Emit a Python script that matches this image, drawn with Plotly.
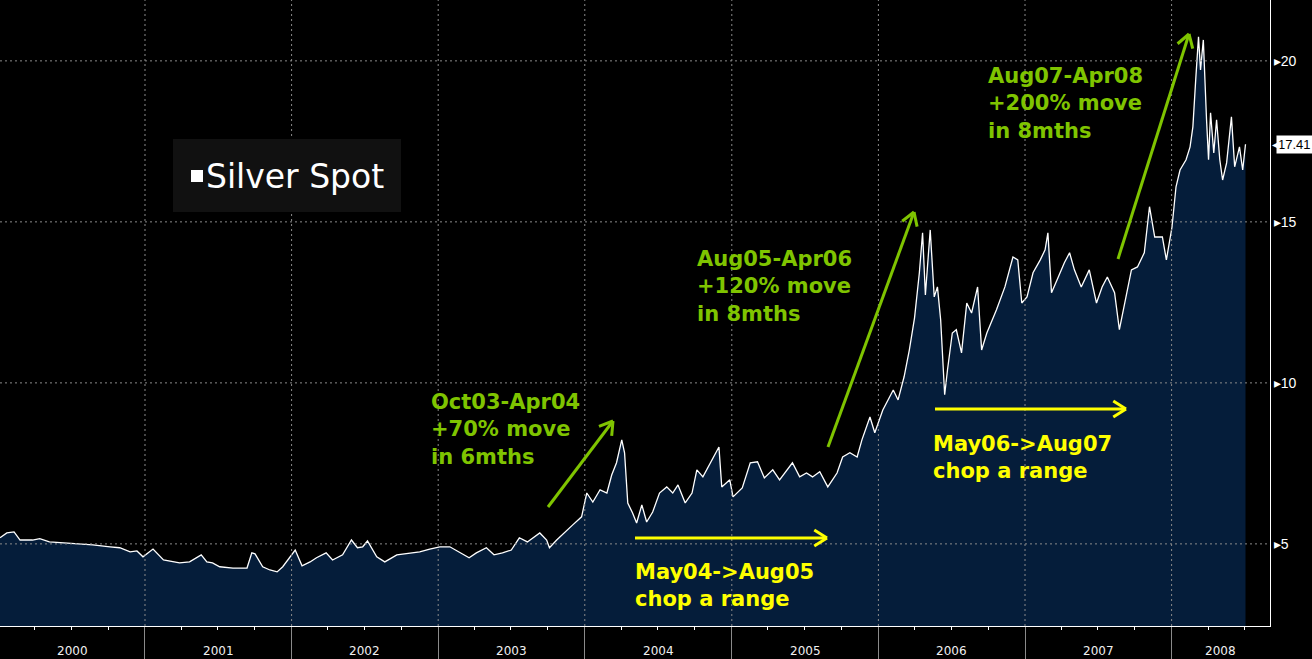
import math
import pandas as pd
import plotly.graph_objects as go

# ---------------- data ----------------
dates = [
    "2000-01-06", "2000-01-23", "2000-02-10", "2000-02-25", "2000-03-27", "2000-04-14",
    "2000-05-08", "2000-06-20", "2000-07-22", "2000-08-24", "2000-10-06", "2000-10-30",
    "2000-11-25", "2000-12-12", "2000-12-27",
    "2001-01-21", "2001-02-16", "2001-03-10", "2001-03-28", "2001-04-22", "2001-05-21",
    "2001-06-04", "2001-06-18", "2001-07-06", "2001-08-08", "2001-09-12", "2001-09-24",
    "2001-10-02", "2001-10-21", "2001-11-08", "2001-11-26", "2001-12-10", "2001-12-28",
    "2002-01-10", "2002-01-27", "2002-02-16", "2002-03-04", "2002-03-28", "2002-04-13",
    "2002-05-08", "2002-05-30", "2002-06-14", "2002-06-27", "2002-07-09", "2002-08-01",
    "2002-08-21", "2002-09-20", "2002-10-22", "2002-11-16", "2002-12-11",
    "2003-01-05", "2003-01-30", "2003-02-25", "2003-03-19", "2003-04-06", "2003-05-01",
    "2003-05-20", "2003-06-10", "2003-07-02", "2003-07-22", "2003-08-11", "2003-09-11",
    "2003-09-28", "2003-10-05", "2003-10-23", "2003-11-12", "2003-12-02", "2003-12-24",
    "2004-01-06", "2004-01-21", "2004-02-08", "2004-02-25", "2004-03-08", "2004-03-20",
    "2004-04-02", "2004-04-09", "2004-04-17", "2004-04-29", "2004-05-09", "2004-05-22",
    "2004-06-03", "2004-06-18", "2004-07-05", "2004-07-23", "2004-08-07", "2004-08-20",
    "2004-09-07", "2004-09-24", "2004-10-06", "2004-10-21", "2004-11-03", "2004-11-15",
    "2004-11-30", "2004-12-07", "2004-12-27",
    "2005-01-04", "2005-01-27", "2005-02-16", "2005-03-06", "2005-03-23", "2005-04-13",
    "2005-04-30", "2005-05-19", "2005-06-01", "2005-06-19", "2005-07-06", "2005-07-21",
    "2005-08-08", "2005-08-28", "2005-09-20", "2005-10-04", "2005-10-22", "2005-11-09",
    "2005-11-21", "2005-12-11", "2005-12-23",
    "2006-01-12", "2006-02-07", "2006-02-19", "2006-03-06", "2006-03-19", "2006-04-01",
    "2006-04-13", "2006-04-21", "2006-04-28", "2006-05-10", "2006-05-20", "2006-05-28",
    "2006-06-05", "2006-06-15", "2006-06-22", "2006-07-04", "2006-07-14", "2006-07-27",
    "2006-08-09", "2006-08-21", "2006-09-05", "2006-09-15", "2006-09-28", "2006-10-22",
    "2006-11-12", "2006-12-02", "2006-12-14", "2006-12-24",
    "2007-01-06", "2007-01-21", "2007-02-08", "2007-02-20", "2007-02-27", "2007-03-08",
    "2007-03-22", "2007-04-09", "2007-04-22", "2007-05-04", "2007-05-21", "2007-06-10",
    "2007-06-28", "2007-07-12", "2007-07-25", "2007-08-12", "2007-08-24", "2007-09-06",
    "2007-09-23", "2007-10-08", "2007-10-25", "2007-11-07", "2007-11-20", "2007-12-09",
    "2007-12-19",
    "2008-01-02", "2008-01-12", "2008-01-22", "2008-02-06", "2008-02-16", "2008-02-23",
    "2008-03-01", "2008-03-08", "2008-03-13", "2008-03-20", "2008-03-28", "2008-04-02",
    "2008-04-07", "2008-04-15", "2008-04-22", "2008-04-30", "2008-05-07", "2008-05-17",
    "2008-05-29", "2008-06-06", "2008-06-18", "2008-06-26", "2008-07-03",
]
silver = [
    5.19, 5.34, 5.37, 5.12, 5.12, 5.16,
    5.06, 5.03, 5.00, 4.97, 4.91, 4.88,
    4.75, 4.78, 4.60,
    4.84, 4.50, 4.44, 4.41, 4.44, 4.66,
    4.44, 4.41, 4.29, 4.25, 4.25, 4.72,
    4.69, 4.29, 4.19, 4.13, 4.29, 4.60,
    4.81, 4.32, 4.44, 4.57, 4.72, 4.50,
    4.66, 5.12, 4.88, 4.91, 5.09, 4.60,
    4.44, 4.66, 4.72, 4.75, 4.84,
    4.91, 4.91, 4.72, 4.57, 4.72, 4.88,
    4.66, 4.72, 4.81, 5.19, 5.06, 5.34,
    5.12, 4.88, 5.12, 5.37, 5.59, 5.84,
    6.58, 6.30, 6.68, 6.58, 7.14, 7.52,
    8.23, 7.83, 6.27, 5.96, 5.65, 6.21,
    5.68, 5.99, 6.58, 6.77, 6.58, 6.83,
    6.27, 6.58, 7.30, 7.08, 7.39, 7.70,
    8.01, 6.77, 6.99,
    6.46, 6.74, 7.52, 7.55, 7.05, 7.30,
    6.99, 7.30, 7.52, 7.08, 7.20, 7.08,
    7.24, 6.77, 7.20, 7.70, 7.83, 7.70,
    8.23, 8.94, 8.45,
    9.16, 9.78, 9.47, 10.19, 11.02, 12.02,
    13.42, 14.66, 12.73, 14.75, 12.67, 12.98,
    11.96, 9.63, 10.40, 11.55, 11.65, 10.93,
    12.48, 12.17, 12.98, 11.02, 11.55, 12.27,
    12.98, 13.91, 13.82, 12.48,
    12.67, 13.42, 13.82, 14.13, 14.66, 12.80,
    13.20, 13.73, 14.04, 13.51, 12.98, 13.51,
    12.48, 12.98, 13.29, 12.80, 11.65, 12.48,
    13.51, 13.60, 14.04, 15.47, 14.53, 14.53,
    13.82,
    14.84, 16.09, 16.61, 16.93, 17.33, 17.95,
    19.41, 20.75, 19.72, 20.65, 18.17, 16.93,
    18.39, 17.14, 18.17, 16.93, 16.30, 16.83,
    18.26, 16.71, 17.33, 16.61, 17.41,
]
last_label = "17.41"
series_name = "Silver Spot"
years = [2000, 2001, 2002, 2003, 2004, 2005, 2006, 2007, 2008]
y_ticks = [5, 10, 15, 20]

# ---------------- layout constants ----------------
W, H = 1312, 659
ML, MR, MT, MB = 0, 42, 0, 33
PW, PH = W - ML - MR, H - MT - MB
x_range = ["2000-01-06", "2008-09-02"]
y_range = [2.45, 21.89]

GREEN = "#7fc400"
YELLOW = "#ffff00"
NAVY = "#051d3a"
GRID = "#8a8a8a"


def px(x):
    return x / PW


def py(y):
    return 1 - y / PH


fig = go.Figure()
fig.add_trace(go.Scatter(
    x=dates, y=silver, mode="lines", name=series_name,
    line=dict(color="white", width=1.3), fill="tozeroy", fillcolor=NAVY,
    showlegend=False, hoverinfo="x+y",
))

shapes = []
annotations = []

# dotted grid drawn above the filled area
for v in y_ticks:
    shapes.append(dict(type="line", xref="paper", yref="y", x0=0, x1=1, y0=v, y1=v,
                       line=dict(color=GRID, width=1, dash="2px,3px"), layer="above"))
for yr in years[1:]:
    d = f"{yr}-01-01"
    shapes.append(dict(type="line", xref="x", yref="paper", x0=d, x1=d, y0=0, y1=1,
                       line=dict(color=GRID, width=1, dash="2px,3px"), layer="above"))

# year labels centred on the visible part of each year
r0, r1 = pd.Timestamp(x_range[0]), pd.Timestamp(x_range[1])
for yr in years:
    a = max(pd.Timestamp(f"{yr}-01-01"), r0)
    b = min(pd.Timestamp(f"{yr + 1}-01-01"), r1)
    mid = a + (b - a) / 2
    annotations.append(dict(x=mid.strftime("%Y-%m-%d %H:%M"), xref="x", y=0, yref="paper",
                            yanchor="middle", yshift=-25, text=str(yr), showarrow=False,
                            font=dict(family="DejaVu Sans", size=12, color="#f0f0f0")))

# legend box
shapes.append(dict(type="rect", xref="paper", yref="paper", x0=px(173), x1=px(401),
                   y0=py(212), y1=py(139), fillcolor="#111111", line=dict(width=0),
                   layer="above"))
shapes.append(dict(type="rect", xref="paper", yref="paper", x0=px(191), x1=px(203),
                   y0=py(182), y1=py(170), fillcolor="white", line=dict(width=0),
                   layer="above"))
annotations.append(dict(xref="paper", yref="paper", x=px(204), y=py(176), xanchor="left",
                        yanchor="middle", showarrow=False, text=series_name,
                        font=dict(family="DejaVu Sans", size=33, color="white")))

# last value tag
annotations.append(dict(xref="paper", yref="y", x=1, y=silver[-1], xanchor="left",
                        yanchor="middle", xshift=6, showarrow=False, text=last_label,
                        bgcolor="white", borderpad=1,
                        font=dict(family="Liberation Sans", size=13, color="black")))
annotations.append(dict(xref="paper", yref="y", x=1, y=silver[-1], xanchor="left",
                        yanchor="middle", xshift=0, showarrow=False, text="◀",
                        font=dict(family="DejaVu Sans", size=10, color="white")))


# text annotations
def note(text, x, y_top, color):
    annotations.append(dict(xref="paper", yref="paper", x=px(x), y=py(y_top), xanchor="left",
                            yanchor="top", align="left", showarrow=False, text=text,
                            font=dict(family="DejaVu Sans", size=21, color=color,
                                      weight="bold")))


note("Oct03-Apr04<br>+70% move<br>in 6mths", 429, 388, GREEN)
note("Aug05-Apr06<br>+120% move<br>in 8mths", 695, 245, GREEN)
note("Aug07-Apr08<br>+200% move<br>in 8mths", 986, 62, GREEN)
note("May04->Aug05<br>chop a range", 633, 558, YELLOW)
note("May06->Aug07<br>chop a range", 931, 430, YELLOW)


# arrows with open chevron heads
def arrow(x0, y0, x1, y1, color, width=3, head=15, ang=32):
    shapes.append(dict(type="line", xref="paper", yref="paper", x0=px(x0), y0=py(y0),
                       x1=px(x1), y1=py(y1), line=dict(color=color, width=width),
                       layer="above"))
    dx, dy = x0 - x1, y0 - y1
    n = math.hypot(dx, dy)
    ux, uy = dx / n, dy / n
    for s in (1, -1):
        a = math.radians(ang) * s
        hx = ux * math.cos(a) - uy * math.sin(a)
        hy = ux * math.sin(a) + uy * math.cos(a)
        shapes.append(dict(type="line", xref="paper", yref="paper", x0=px(x1), y0=py(y1),
                           x1=px(x1 + hx * head), y1=py(y1 + hy * head),
                           line=dict(color=color, width=width), layer="above"))


arrow(548, 507, 613, 421, GREEN)
arrow(828, 447, 914, 212, GREEN)
arrow(1118, 259, 1189, 34, GREEN)
arrow(635, 538, 827, 538, YELLOW)
arrow(935, 409, 1126, 409, YELLOW)

fig.update_layout(
    width=W, height=H,
    margin=dict(l=ML, r=MR, t=MT, b=MB, pad=0),
    paper_bgcolor="black", plot_bgcolor="black",
    shapes=shapes, annotations=annotations,
    showlegend=False,
    xaxis=dict(
        type="date", range=x_range, showgrid=False, zeroline=False,
        showline=True, linecolor="white", linewidth=1,
        tick0="2000-01-01", dtick="M12", ticks="outside", ticklen=33,
        tickcolor="#8a8a8a", tickwidth=1, showticklabels=False,
        minor=dict(dtick="M3", tick0="2000-01-01", ticks="outside", ticklen=3,
                   tickcolor="white", showgrid=False),
    ),
    yaxis=dict(
        side="right", range=y_range, showgrid=False, zeroline=False,
        showline=True, linecolor="white", linewidth=1,
        tickvals=y_ticks, ticktext=["▸" + str(v) for v in y_ticks], ticks="",
        tickfont=dict(family="Liberation Sans", size=14, color="white"),
    ),
)

fig.write_html("out.html")
